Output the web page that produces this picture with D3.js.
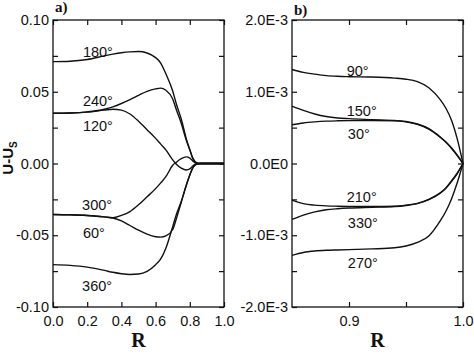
<!DOCTYPE html>
<html><head><meta charset="utf-8">
<script src="https://cdn.jsdelivr.net/npm/d3@7"></script>
<style>
html,body{margin:0;padding:0;background:#fff;}
svg{display:block;}
</style></head>
<body>
<script>
// ---------- Panel a data ----------
const rA = [0.0,0.1,0.2,0.3,0.35,0.4,0.45,0.5,0.55,0.6,0.63,0.66,0.7,0.72,0.75,0.78,0.8,0.82,0.84,0.86,0.9,1.0];
const a180 = [0.0710,0.0713,0.0725,0.0750,0.0762,0.0772,0.0778,0.0780,0.0770,0.0738,0.0700,0.0625,0.0505,0.0420,0.0310,0.0170,0.0097,0.0030,0.0005,0,0,0];
const a240 = [0.0350,0.0352,0.0360,0.0378,0.0395,0.0418,0.0445,0.0475,0.0503,0.0520,0.0525,0.0510,0.0450,0.0380,0.0280,0.0160,0.0095,0.0030,0.0005,0,0,0];
const a120 = [0.0350,0.0352,0.0358,0.0372,0.0378,0.0372,0.0345,0.0295,0.0235,0.0175,0.0135,0.0095,0.0025,-0.0003,-0.0032,-0.0045,-0.0038,-0.0014,-0.0002,0,0,0];
const a300 = [-0.0355,-0.0357,-0.0362,-0.0372,-0.0378,-0.0362,-0.0335,-0.0288,-0.0232,-0.0175,-0.0135,-0.0092,-0.0012,0.0008,0.0034,0.0046,0.0038,0.0014,0.0002,0,0,0];
const a60  = [-0.0355,-0.0357,-0.0362,-0.0372,-0.0380,-0.0400,-0.0432,-0.0465,-0.0492,-0.0510,-0.0513,-0.0505,-0.0460,-0.0390,-0.0270,-0.0150,-0.0080,-0.0025,-0.0004,0,0,0];
const a360 = [-0.0705,-0.0710,-0.0722,-0.0745,-0.0758,-0.0768,-0.0773,-0.0770,-0.0752,-0.0705,-0.0665,-0.0590,-0.0440,-0.0360,-0.0265,-0.0150,-0.0080,-0.0025,-0.0004,0,0,0];
const seriesA = [a180,a240,a120,a300,a60,a360];
const namesA = ["180°","240°","120°","300°","60°","360°"];
const labelRA = [0.175,0.175,0.175,0.170,0.175,0.170];
const labelVA = [0.0742,0.0401,0.0226,-0.0324,-0.0519,-0.0889];
const xTicksA = [0,0.2,0.4,0.6,0.8,1.0];
const xTickLabelsA = ["0.0","0.2","0.4","0.6","0.8","1.0"];
const yTicksA = [0.10,0.05,0.00,-0.05,-0.10];
const yTickLabelsA = ["0.10","0.05","0.00","-0.05","-0.10"];
const yMinorA = [0.075,0.025,-0.025,-0.075];

// ---------- Panel b data (units of 1E-3) ----------
const rB = [0.85,0.86,0.87,0.88,0.89,0.90,0.92,0.94,0.95,0.96,0.97,0.98,0.985,0.99,0.995,1.0];
const b90  = [1.31,1.27,1.245,1.225,1.215,1.21,1.205,1.19,1.175,1.14,1.055,0.89,0.77,0.60,0.34,0.0];
const b150 = [0.80,0.74,0.69,0.655,0.635,0.625,0.612,0.600,0.585,0.55,0.485,0.37,0.30,0.215,0.115,0.0];
const b30  = [0.54,0.565,0.58,0.59,0.595,0.598,0.600,0.595,0.580,0.545,0.48,0.365,0.295,0.21,0.11,0.0];
const b210 = [-0.51,-0.56,-0.58,-0.59,-0.595,-0.598,-0.600,-0.595,-0.580,-0.555,-0.50,-0.41,-0.34,-0.24,-0.13,0.0];
const b330 = [-0.78,-0.72,-0.675,-0.645,-0.63,-0.62,-0.61,-0.60,-0.585,-0.56,-0.505,-0.415,-0.345,-0.25,-0.14,0.0];
const b270 = [-1.28,-1.24,-1.22,-1.21,-1.205,-1.20,-1.19,-1.175,-1.15,-1.10,-1.01,-0.80,-0.665,-0.49,-0.265,0.0];
const seriesB = [b90,b150,b30,b210,b330,b270];
const namesB = ["90°","150°","30°","210°","330°","270°"];
const labelRB = [0.898,0.898,0.899,0.898,0.899,0.899];
const labelVB = [1.22,0.66,0.34,-0.54,-0.90,-1.46];
const xTicksB = [0.9,1.0];
const xTickLabelsB = ["0.9","1.0"];
const xMinorB = [0.95];
const yTicksB = [2,1,0,-1,-2];
const yTickLabelsB = ["2.0E-3","1.0E-3","0.0E0","-1.0E-3","-2.0E-3"];
const yMinorB = [1.5,0.5,-0.5,-1.5];

const SANS = "'Liberation Sans', Arial, Helvetica, sans-serif";
const SERIF = "'Liberation Serif', 'Times New Roman', serif";
const W = 474, H = 355;
const svg = d3.select("body").append("svg").attr("width",W).attr("height",H);

const plotTop = 20, plotBottom = 307;
function panel(opt){
  const x = d3.scaleLinear().domain(opt.xDomain).range([opt.x0,opt.x1]);
  const y = d3.scaleLinear().domain(opt.yDomain).range([plotBottom,plotTop]);
  const g = svg.append("g");
  const tk = 5;
  const allY = opt.yTicks.concat(opt.yMinor);
  const allX = opt.xTicks.concat(opt.xMinor);
  const fy = d => { const i = opt.yTicks.indexOf(d); return i>=0 ? opt.yLabels[i] : ""; };
  const fx = d => { const i = opt.xTicks.indexOf(d); return i>=0 ? opt.xLabels[i] : ""; };
  const left = g.append("g").attr("transform",`translate(${opt.x0},0)`)
    .call(d3.axisLeft(y).tickValues(allY).tickSizeInner(-tk).tickSizeOuter(0).tickPadding(4).tickFormat(fy));
  const right = g.append("g").attr("transform",`translate(${opt.x1},0)`)
    .call(d3.axisRight(y).tickValues(allY).tickSizeInner(-tk).tickSizeOuter(0).tickFormat(""));
  const bot = g.append("g").attr("transform",`translate(0,${plotBottom})`)
    .call(d3.axisBottom(x).tickValues(allX).tickSizeInner(-tk).tickSizeOuter(0).tickPadding(9).tickFormat(fx));
  const tp = g.append("g").attr("transform",`translate(0,${plotTop})`)
    .call(d3.axisTop(x).tickValues(allX).tickSizeInner(-tk).tickSizeOuter(0).tickFormat(""));
  [left,right,bot,tp].forEach(a=>{
    a.select(".domain").remove();
    a.selectAll(".tick line").attr("stroke","#111").attr("stroke-width",1.2);
    a.selectAll(".tick text").style("font-size","14.5px").style("font-family",SANS).attr("fill","#111");
  });
  g.append("rect").attr("x",opt.x0).attr("y",plotTop).attr("width",opt.x1-opt.x0).attr("height",plotBottom-plotTop)
    .attr("fill","none").attr("stroke","#111").attr("stroke-width",1.3);
  const line = d3.line().x((d,i)=>x(opt.r[i])).y(d=>y(d)).curve(d3.curveMonotoneX);
  g.append("g").selectAll("path").data(opt.series).join("path")
    .attr("d",line).attr("fill","none").attr("stroke","#111").attr("stroke-width",1.4);
  g.append("g").selectAll("text").data(opt.names).join("text")
    .attr("x",(d,i)=>x(opt.lr[i])).attr("y",(d,i)=>y(opt.lv[i]))
    .style("font-family",SANS).style("font-size","14.5px").attr("fill","#111").text(d=>d);
  g.append("text").attr("x",(opt.x0+opt.x1)/2).attr("y",347).attr("text-anchor","middle")
    .style("font-family",SERIF).style("font-weight","bold").style("font-size","20px").attr("fill","#111").text("R");
  g.append("text").attr("x",opt.x0+2).attr("y",opt.tagY)
    .style("font-family",SERIF).style("font-weight","bold").style("font-size","15px").attr("fill","#111").text(opt.tag);
}

panel({xDomain:[0,1],yDomain:[-0.10,0.10],x0:53,x1:224,r:rA,series:seriesA,names:namesA,lr:labelRA,lv:labelVA,
  xTicks:xTicksA,xLabels:xTickLabelsA,xMinor:[],yTicks:yTicksA,yLabels:yTickLabelsA,yMinor:yMinorA,tag:"a)",tagY:12});
panel({xDomain:[0.85,1.0],yDomain:[-2,2],x0:292,x1:463,r:rB,series:seriesB,names:namesB,lr:labelRB,lv:labelVB,
  xTicks:xTicksB,xLabels:xTickLabelsB,xMinor:xMinorB,yTicks:yTicksB,yLabels:yTickLabelsB,yMinor:yMinorB,tag:"b)",tagY:15});

const yt = svg.append("text").attr("transform","translate(13,158) rotate(-90)").attr("text-anchor","middle")
  .style("font-family",SANS).style("font-size","15px").style("font-weight","bold").attr("fill","#111");
yt.append("tspan").text("U-U");
yt.append("tspan").style("font-size","10px").attr("dy",4).text("S");
</script>
</body></html>
